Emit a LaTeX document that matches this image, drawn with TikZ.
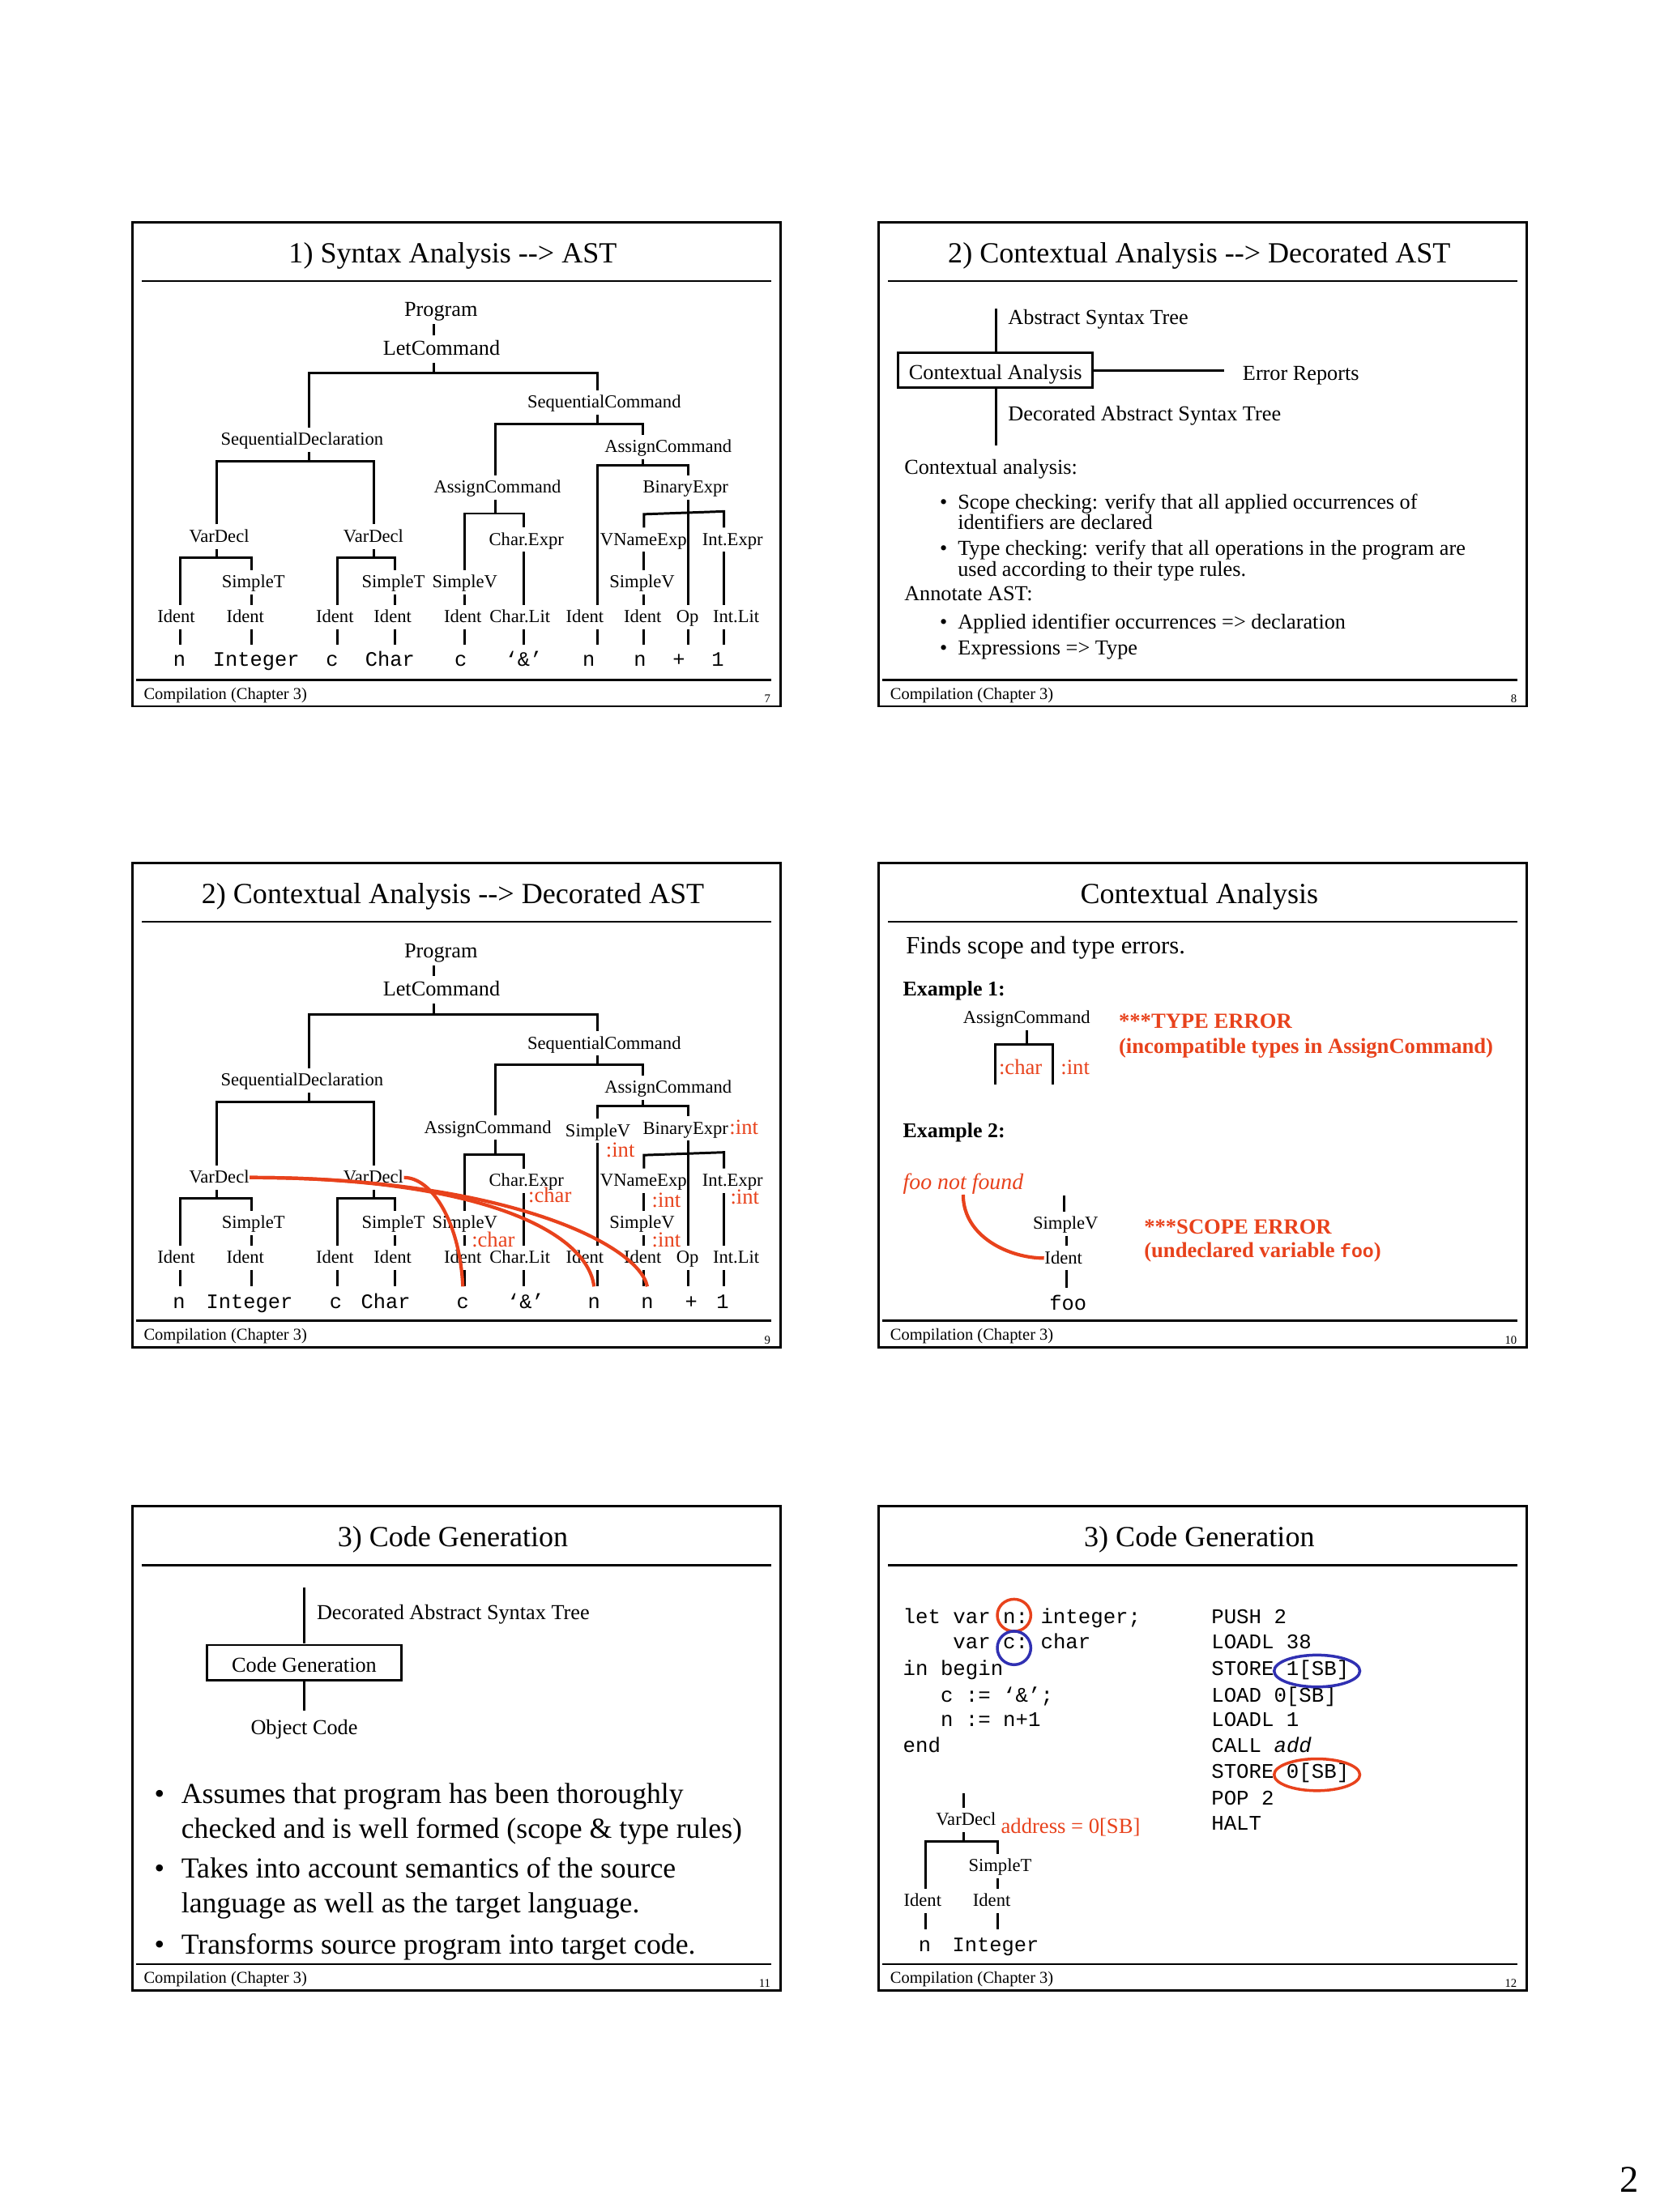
\documentclass[tikz,border=0pt]{standalone}
\usepackage{fontspec}
\setmainfont{Liberation Serif}
\setmonofont{Liberation Mono}
\definecolor{errred}{RGB}{232,66,28}
\definecolor{circblue}{RGB}{48,48,178}
\tikzset{every node/.style={inner sep=0pt},
zoomfit/.style n args={4}{shift={(#1,#2)}, xscale=#3, yscale=#4, shift={(-#1,-#2)}}, % fit measured layout
frame/.style={line width=0.8pt}, % slide border
rule/.style={line width=0.75pt}, % title and footer rules
tline/.style={line width=0.85pt}, % tree branches
redline/.style={draw=errred, line width=1.2pt},
redring/.style={draw=errred, line width=1pt},
bluering/.style={draw=circblue, line width=1pt},
title/.style={anchor=base, font=\fontsize{10.3}{12}\selectfont},
foot/.style={anchor=base west, font=\fontsize{5.85}{7}\selectfont},
pnum/.style={anchor=base east, font=\fontsize{4.2}{5}\selectfont},
tn/.style={anchor=base, font=\fontsize{6.45}{7.5}\selectfont, text height=5pt, text depth=1.2pt, inner ysep=1pt},
tntop/.style={tn, font=\fontsize{7.5}{9}\selectfont, text height=5.8pt, text depth=1.5pt},
leaf/.style={anchor=base, font=\ttfamily\fontsize{7.25}{8}\selectfont, text height=5.1pt, text depth=0pt, inner ysep=2.5pt},
ann/.style={anchor=base west, text=errred, font=\fontsize{7.6}{9}\selectfont},
body/.style={anchor=base west, font=\fontsize{7.5}{9}\selectfont},
bigbody/.style={anchor=base west, font=\fontsize{10.2}{12}\selectfont},
finds/.style={anchor=base west, font=\fontsize{8.75}{10}\selectfont},
exhead/.style={anchor=base west, font=\bfseries\fontsize{7.4}{9}\selectfont},
err/.style={anchor=base west, text=errred, font=\bfseries\fontsize{7.6}{9}\selectfont},
note/.style={anchor=base west, text=errred, font=\itshape\fontsize{7.95}{9}\selectfont},
procbox/.style={draw, line width=0.85pt, font=\fontsize{7.5}{9}\selectfont, text height=6.6pt, text depth=0pt},
code/.style={anchor=base west, font=\ttfamily\fontsize{7.35}{8}\selectfont}}

% slide border, title, rules and footer
\newcommand{\slideframe}[3]{%
  \begin{scope}[shift={#1}]
    \draw[frame] (0,0) rectangle (457,341.5);
    \node[title] (title#3) at (226,28.6) {#2};
    \draw[rule] (6.7,41.5) -- (450.3,41.5);
    \draw[rule] (2.6,322.8) -- (450.3,322.8);
    \node[foot] (foot#3) at (7.7,336.5) {Compilation (Chapter 3)};
    \node[pnum] (pnum#3) at (450.3,339.2) {#3};
  \end{scope}}
% parent, column of its stem, bar y, left x, right x, left child, right child
\newcommand{\treefork}[7]{%
  \coordinate (#1L) at (#4,#3);
  \coordinate (#1R) at (#5,#3);
  \draw[tline] (#1L |- #6.north) -- (#1L) -- (#1R) -- (#1R |- #7.north)
    (#1.south -| #2) -- (#2 |- #1L);}
% column, upper node, lower node
\newcommand{\treelink}[3]{\draw[tline] (#2.south -| #1) -- (#3.north -| #1);}

\begin{document}
\begin{tikzpicture}[x=0.5pt, y=-0.5pt]
    \fill[white] (0,0) rectangle (1170,1560);
    \useasboundingbox (0,0) rectangle (1170,1560);

    % ---------- slide 7: syntax analysis
    \slideframe{(93.3,156.6)}{1) Syntax Analysis -{}-> AST}{7}
    \begin{scope}[zoomfit={91.43}{154.29}{0.9959}{0.995}]
    \node[tntop] (aprog) at (311.8,223.6) {Program};
    \node[tntop] (alet) at (312.2,250.8) {LetCommand};
    \node[tn] (asd) at (213.5,314.7) {SequentialDeclaration};
    \node[tn] (asc) at (427.4,288.4) {SequentialCommand};
    \node[tn] (avd1) at (154.8,383.4) {VarDecl};
    \node[tn] (avd2) at (264,383.4) {VarDecl};
    \node[tn] (ast1) at (179,415.7) {SimpleT};
    \node[tn] (ast2) at (278.1,415.7) {SimpleT};
    \node[tn] (aac1) at (351.8,348.7) {AssignCommand};
    \node[tn] (aac2) at (472.7,319.7) {AssignCommand};
    \node[tn] (ace) at (372.3,385.6) {Char.Expr};
    \node[tn] (asv1) at (328.7,415.7) {SimpleV};
    \node[tn] (abe) at (485,348.7) {BinaryExpr};
    \node[tn] (avn) at (455.2,385.6) {VNameExp};
    \node[tn] (aie) at (518.3,385.6) {Int.Expr};
    \node[tn] (asv2) at (454.2,415.7) {SimpleV};
    \node[tn] (aid1) at (124.4,440.3) {Ident};
    \node[tn] (aid2) at (173.3,440.3) {Ident};
    \node[tn] (aid3) at (236.7,440.3) {Ident};
    \node[tn] (aid4) at (277.6,440.3) {Ident};
    \node[tn] (aid5) at (327.3,440.3) {Ident};
    \node[tn] (acl) at (367.7,440.3) {Char.Lit};
    \node[tn] (aid6) at (413.7,440.3) {Ident};
    \node[tn] (aid7) at (454.6,440.3) {Ident};
    \node[tn] (aop) at (486.4,440.3) {Op};
    \node[tn] (ail) at (520.8,440.3) {Int.Lit};
    \node[leaf] (al1) at (126.6,471.6) {n};
    \node[leaf] (al2) at (181,471.6) {Integer};
    \node[leaf] (al3) at (234.8,471.6) {c};
    \node[leaf] (al4) at (275.7,471.6) {Char};
    \node[leaf] (al5) at (325.8,471.6) {c};
    \node[leaf] (al6) at (370.4,471.6) {‘\&’};
    \node[leaf] (al7) at (416.4,471.6) {n};
    \node[leaf] (al8) at (452.8,471.6) {n};
    \node[leaf] (al9) at (480.2,471.6) {+};
    \node[leaf] (al10) at (507.8,471.6) {1};

    \coordinate (atop) at (306.6,229);
    \treelink{atop}{aprog}{alet}
    \treefork{alet}{atop}{263.8}{218.4}{422.9}{asd}{asc}
    \treefork{asd}{aletL}{326}{152.9}{264.1}{avd1}{avd2}
    \treefork{avd1}{asdL}{394.5}{127}{177.5}{aid1}{ast1}
    \treefork{avd2}{asdR}{394.5}{238.3}{279}{aid3}{ast2}
    \treelink{avd1R}{ast1}{aid2}
    \treelink{avd2R}{ast2}{aid4}
    \treefork{asc}{aletR}{299.5}{350.5}{454.9}{aac1}{aac2}
    \treefork{aac1}{ascL}{363.2}{328.8}{370.4}{asv1}{ace}
    \treelink{aac1L}{asv1}{aid5}
    \treelink{aac1R}{ace}{acl}
    \treefork{aac2}{ascR}{329}{422.9}{486.7}{aid6}{abe}
    \coordinate (abeL) at (455.5,363.7);
    \coordinate (abeR) at (512.2,361.7);
    \draw[tline] (abeL |- avn.north) -- (abeL) -- (abeR) -- (abeR |- aie.north);
    \treelink{aac2R}{abe}{aop}
    \treelink{abeL}{avn}{asv2}
    \treelink{abeL}{asv2}{aid7}
    \treelink{abeR}{aie}{ail}
    \treelink{avd1L}{aid1}{al1}
    \treelink{avd1R}{aid2}{al2}
    \treelink{avd2L}{aid3}{al3}
    \treelink{avd2R}{aid4}{al4}
    \treelink{aac1L}{aid5}{al5}
    \treelink{aac1R}{acl}{al6}
    \treelink{aac2L}{aid6}{al7}
    \treelink{abeL}{aid7}{al8}
    \treelink{aac2R}{aop}{al9}
    \treelink{abeR}{ail}{al10}
    \end{scope}

    % ---------- slide 8: contextual analysis phase
    \slideframe{(619.6,156.6)}{2) Contextual Analysis -{}-> Decorated AST}{8}
    \begin{scope}[zoomfit={620}{154.29}{0.9843}{0.995}]
    \node[procbox, minimum width=68.5pt, minimum height=12.2pt] (bbox) at (703.2,261.6) {Contextual Analysis};
    \coordinate (btop) at (703.5,218);
    \coordinate (bbot) at (703.5,314.7);
    \draw[tline] (btop) -- (btop |- bbox.north);
    \draw[tline] (bbox.south -| bbot) -- (bbot);
    \node[body] (bast) at (711.9,229.2) {Abstract Syntax Tree};
    \node[body, inner xsep=6.3pt] (berr) at (867.1,268.7) {Error Reports};
    \draw[tline] (bbox.east) -- (bbox.east -| berr.west);
    \node[body] (bdast) at (711.9,297.3) {Decorated Abstract Syntax Tree};
    \node[body] (bhead1) at (637.5,335.3) {Contextual analysis:};
    \node[body] (bb1) at (663,359.9) {\textbullet};
    \node[body] (bt1a) at (675.8,359.9) {Scope checking: verify that all applied occurrences of};
    \node[body] (bt1b) at (675.8,374.4) {identifiers are declared};
    \node[body] (bb2) at (663,393) {\textbullet};
    \node[body] (bt2a) at (675.8,393) {Type checking: verify that all operations in the program are};
    \node[body] (bt2b) at (675.8,407.5) {used according to their type rules.};
    \node[body] (bhead2) at (637.5,425.1) {Annotate AST:};
    \node[body] (bb3) at (663,445.2) {\textbullet};
    \node[body] (bt3) at (675.8,445.2) {Applied identifier occurrences => declaration};
    \node[body] (bb4) at (663,463.1) {\textbullet};
    \node[body] (bt4) at (675.8,463.1) {Expressions => Type};
    \end{scope}

    % ---------- slide 9: decorated tree
    \slideframe{(93.3,608.6)}{2) Contextual Analysis -{}-> Decorated AST}{9}
    \begin{scope}[shift={(0,452)}, zoomfit={91.43}{154.29}{0.9959}{0.995}]
    \node[tntop] (cprog) at (311.8,223.6) {Program};
    \node[tntop] (clet) at (312.2,250.8) {LetCommand};
    \node[tn] (csd) at (213.5,314.7) {SequentialDeclaration};
    \node[tn] (csc) at (427.4,288.4) {SequentialCommand};
    \node[tn] (cvd1) at (154.8,383.4) {VarDecl};
    \node[tn] (cvd2) at (264,383.4) {VarDecl};
    \node[tn] (cst1) at (179,415.7) {SimpleT};
    \node[tn] (cst2) at (278.1,415.7) {SimpleT};
    \node[tn] (cac1) at (345,348.1) {AssignCommand};
    \node[tn] (cac2) at (472.7,319.7) {AssignCommand};
    \node[tn] (cce) at (372.3,385.6) {Char.Expr};
    \node[tn] (csv1) at (328.7,415.7) {SimpleV};
    \node[tn] (csv3) at (423,350.4) {SimpleV};
    \node[tn] (cbe) at (485,348.7) {BinaryExpr};
    \node[tn] (cvn) at (455.2,385.6) {VNameExp};
    \node[tn] (cie) at (518.3,385.6) {Int.Expr};
    \node[tn] (csv2) at (454.2,415.7) {SimpleV};
    \node[tn] (cid1) at (124.4,440.3) {Ident};
    \node[tn] (cid2) at (173.3,440.3) {Ident};
    \node[tn] (cid3) at (236.7,440.3) {Ident};
    \node[tn] (cid4) at (277.6,440.3) {Ident};
    \node[tn] (cid5) at (327.3,440.3) {Ident};
    \node[tn] (ccl) at (367.7,440.3) {Char.Lit};
    \node[tn] (cid6) at (413.7,440.3) {Ident};
    \node[tn] (cid7) at (454.6,440.3) {Ident};
    \node[tn] (cop) at (486.4,440.3) {Op};
    \node[tn] (cil) at (520.8,440.3) {Int.Lit};
    \node[leaf] (cl1) at (126.4,472.5) {n};
    \node[leaf] (cl2) at (176.3,472.5) {Integer};
    \node[leaf] (cl3) at (237.4,472.5) {c};
    \node[leaf] (cl4) at (272.7,472.5) {Char};
    \node[leaf] (cl5) at (327.3,472.5) {c};
    \node[leaf] (cl6) at (371.8,472.5) {‘\&’};
    \node[leaf] (cl7) at (420.2,472.5) {n};
    \node[leaf] (cl8) at (457.9,472.5) {n};
    \node[leaf] (cl9) at (489,472.5) {+};
    \node[leaf] (cl10) at (511.3,472.5) {1};
    % types
    \node[ann] (ctsv3) at (428.2,365.2) {:int};
    \node[ann] (ctbe) at (515.7,349.2) {:int};
    \node[ann] (ctvn) at (460.8,400.5) {:int};
    \node[ann] (ctie) at (516.3,398.2) {:int};
    \node[ann] (ctsv2) at (460.8,428.9) {:int};
    \node[ann] (ctce) at (373.3,397.1) {:char};
    \node[ann] (ctsv1) at (333.2,428.9) {:char};

    \coordinate (ctop) at (306.6,229);
    \treelink{ctop}{cprog}{clet}
    \treefork{clet}{ctop}{263.8}{218.4}{422.9}{csd}{csc}
    \treefork{csd}{cletL}{326}{152.9}{264.1}{cvd1}{cvd2}
    \treefork{cvd1}{csdL}{394.5}{127}{177.5}{cid1}{cst1}
    \treefork{cvd2}{csdR}{394.5}{238.3}{279}{cid3}{cst2}
    \treelink{cvd1R}{cst1}{cid2}
    \treelink{cvd2R}{cst2}{cid4}
    \treefork{csc}{cletR}{299.5}{350.5}{454.9}{cac1}{cac2}
    \treefork{cac1}{cscL}{363.2}{328.8}{370.4}{csv1}{cce}
    \treelink{cac1L}{csv1}{cid5}
    \treelink{cac1R}{cce}{ccl}
    \treefork{cac2}{cscR}{329}{422.9}{486.7}{csv3}{cbe}
    \treelink{cac2L}{csv3}{cid6}
    \coordinate (cbeL) at (455.5,363.7);
    \coordinate (cbeR) at (512.2,361.7);
    \draw[tline] (cbeL |- cvn.north) -- (cbeL) -- (cbeR) -- (cbeR |- cie.north);
    \treelink{cac2R}{cbe}{cop}
    \treelink{cbeL}{cvn}{csv2}
    \treelink{cbeL}{csv2}{cid7}
    \treelink{cbeR}{cie}{cil}
    \treelink{cvd1L}{cid1}{cl1}
    \treelink{cvd1R}{cid2}{cl2}
    \treelink{cvd2L}{cid3}{cl3}
    \treelink{cvd2R}{cid4}{cl4}
    \treelink{cac1L}{cid5}{cl5}
    \treelink{cac1R}{ccl}{cl6}
    \treelink{cac2L}{cid6}{cl7}
    \treelink{cbeL}{cid7}{cl8}
    \treelink{cac2R}{cop}{cl9}
    \treelink{cbeR}{cil}{cl10}
    % applied occurrences -> declarations
    \draw[redline] (cvd1.east) .. controls +(160,0) and +(-5,-40) .. (cl7.north);
    \draw[redline] (cvd1.east) .. controls +(180,0) and +(-6,-30) .. (cl8.north);
    \draw[redline] (cvd2.east) .. controls +(20,0) and +(-2,-45) .. (cl5.north);
    \end{scope}

    % ---------- slide 10: errors
    \slideframe{(619.6,608.6)}{Contextual Analysis}{10}
    \begin{scope}[zoomfit={620}{608.57}{0.9843}{0.986}]
    \node[finds] (dfinds) at (638.7,673.5) {Finds scope and type errors.};
    \node[exhead] (dex1) at (636.6,703.8) {Example 1:};
    \node[tn] (dac) at (725.5,723.6) {AssignCommand};
    \coordinate (dacL) at (702.9,738.4);
    \coordinate (dacR) at (744.5,738.4);
    \coordinate (dlend) at (702.9,766.9);
    \coordinate (drend) at (744.5,766.9);
    \draw[tline] (dac.south) -- (dac.south |- dacL);
    \draw[tline] (dlend) -- (dacL) -- (dacR) -- (drend);
    \node[ann] (dchar) at (705.3,760.1) {:char};
    \node[ann] (dint) at (749.6,760.1) {:int};
    \node[err] (dterr) at (791.2,727) {***TYPE ERROR};
    \node[err] (dtwhy) at (791.2,744.8) {(incompatible types in AssignCommand)};
    \node[exhead] (dex2) at (636.6,805) {Example 2:};
    \node[note] (dnf) at (636.6,842.1) {foo not found};
    \coordinate (dtop) at (752.6,846.6);
    \coordinate (dcol) at (754.1,880);
    \node[tn] (dsv) at (753.4,870.6) {SimpleV};
    \node[tn] (did) at (751.9,895.2) {Ident};
    \node[leaf] (dfoo) at (755.1,928.2) {foo};
    \draw[tline] (dtop) -- (dtop |- dsv.north);
    \treelink{dcol}{dsv}{did}
    \treelink{dcol}{did}{dfoo}
    \draw[redline] (dnf.south) .. controls +(0,30) and +(-25,0) .. (did.west);
    \node[err] (dserr) at (809.3,874) {***SCOPE ERROR};
    \node[err] (dswhy) at (809.3,890.6) {(undeclared variable {\ttfamily\bfseries\fontsize{6.6}{7}\selectfont foo})};
    \end{scope}

    % ---------- slide 11: code generation phase
    \slideframe{(93.3,1062.3)}{3) Code Generation}{11}
    \begin{scope}[zoomfit={91.43}{1062.86}{0.9959}{0.9814}]
    \node[procbox, minimum width=68.4pt, minimum height=12.3pt] (ebox) at (215,1174.5) {Code Generation};
    \coordinate (etop) at (215.2,1120.5);
    \node[body] (edast) at (223.5,1143.8) {Decorated Abstract Syntax Tree};
    \node[body, anchor=base, inner ysep=3pt] (eobj) at (215,1226.5) {Object Code};
    \draw[tline] (etop) -- (etop |- ebox.north);
    \draw[tline] (ebox.south -| etop) -- (eobj.north -| etop);
    \node[bigbody] (eb1) at (108.5,1275.9) {\textbullet};
    \node[bigbody] (et1a) at (127.6,1275.9) {Assumes that program has been thoroughly};
    \node[bigbody] (et1b) at (127.6,1300.9) {checked and is well formed (scope \& type rules)};
    \node[bigbody] (eb2) at (108.5,1329.4) {\textbullet};
    \node[bigbody] (et2a) at (127.6,1329.4) {Takes into account semantics of the source};
    \node[bigbody] (et2b) at (127.6,1354.5) {language as well as the target language.};
    \node[bigbody] (eb3) at (108.5,1384.1) {\textbullet};
    \node[bigbody] (et3) at (127.6,1384.1) {Transforms source program into target code.};
    \end{scope}

    % ---------- slide 12: code generation example
    \slideframe{(619.6,1062.3)}{3) Code Generation}{12}
    \begin{scope}[zoomfit={620}{1062.86}{0.9843}{0.985}]
    \node[code] (fs1) at (636.6,1146) {let var n: integer;};
    \node[code] (fs2) at (636.6,1164.3) {~~~~var c: char};
    \node[code] (fs3) at (636.6,1183.6) {in begin};
    \node[code] (fs4) at (636.6,1202.3) {~~~c := ‘\&’;};
    \node[code] (fs5) at (636.6,1220.1) {~~~n := n+1};
    \node[code] (fs6) at (636.6,1238.3) {end};
    \node[code] (ft1) at (857.5,1146) {PUSH 2};
    \node[code] (ft2) at (857.5,1164.3) {LOADL 38};
    \node[code] (ft3) at (857.5,1183.6) {STORE 1[SB]};
    \node[code] (ft4) at (857.5,1202.3) {LOAD 0[SB]};
    \node[code] (ft5) at (857.5,1220.1) {LOADL 1};
    \node[code] (ft6) at (857.5,1238.3) {CALL \textit{add}};
    \node[code] (ft7) at (857.5,1257.2) {STORE 0[SB]};
    \node[code] (ft8) at (857.5,1275.9) {POP 2};
    \node[code] (ft9) at (857.5,1294.1) {HALT};
    \draw[redring] (716.5,1140.3) ellipse [x radius=12, y radius=11.5];
    \draw[bluering] (716.5,1163.7) ellipse [x radius=12, y radius=12];
    \draw[bluering] (933.5,1180.2) ellipse [x radius=30.7, y radius=11.4];
    \draw[redring] (933.5,1254.5) ellipse [x radius=30.7, y radius=11.4];
    \coordinate (ftop) at (680.3,1267.9);
    \node[tn] (fvd) at (682.1,1290.7) {VarDecl};
    \node[ann] (faddr) at (706.8,1296.4) {address = 0[SB]};
    \node[tn] (fst) at (706.5,1323.7) {SimpleT};
    \node[tn] (fid1) at (651,1348.8) {Ident};
    \node[tn] (fid2) at (700.5,1348.8) {Ident};
    \node[leaf] (fl1) at (652.5,1381) {n};
    \node[leaf] (fl2) at (703.3,1381) {Integer};
    \draw[tline] (ftop) -- (ftop |- fvd.north);
    \treefork{fvd}{ftop}{1302.1}{653.2}{705}{fid1}{fst}
    \treelink{fvdR}{fst}{fid2}
    \treelink{fvdL}{fid1}{fl1}
    \treelink{fvdR}{fid2}{fl2}
    \end{scope}

    \node[anchor=base, font=\fontsize{13.3}{15}\selectfont] (pagenum) at (1149,1545.7) {2};

\end{tikzpicture}
\end{document}
